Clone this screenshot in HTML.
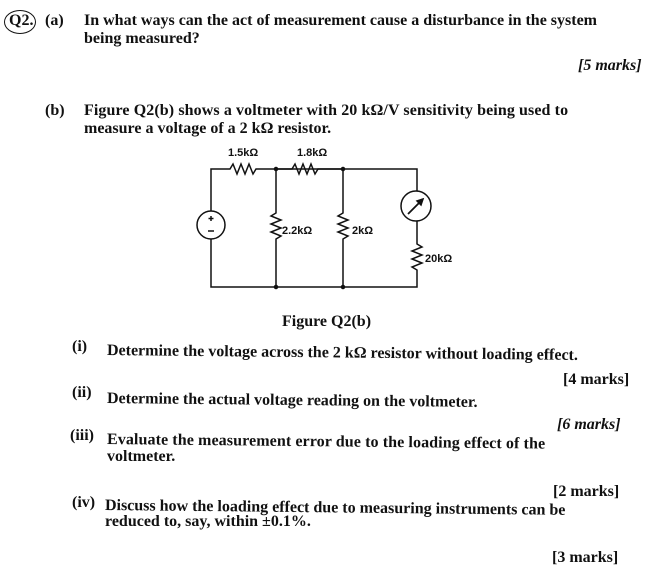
<!DOCTYPE html>
<html><head><style>
body{margin:0;width:649px;height:571px;background:#fff;position:relative;overflow:hidden;font-family:"Liberation Serif",serif;color:#111;}
.t{position:absolute;font-size:16px;font-weight:bold;white-space:nowrap;line-height:18px;letter-spacing:0px}
svg{position:absolute;left:0;top:0}
.s{font-family:"Liberation Sans",sans-serif;font-size:11px;font-weight:bold}
</style></head><body>
<div class="t" style="left:9px;top:12px">Q2.</div>
<div style="position:absolute;left:4px;top:10px;width:30px;height:22px;border:1.5px solid #111;border-radius:50%"></div>
<div class="t" style="left:45px;top:12px">(a)</div>
<div class="t" style="left:84px;top:12px;letter-spacing:0px">In what ways can the act of measurement cause a disturbance in the system</div>
<div class="t" style="left:84px;top:30px">being measured?</div>
<div class="t" style="left:578px;top:57px;font-style:italic">[5 marks]</div>
<div class="t" style="left:45px;top:102px">(b)</div>
<div class="t" style="left:84px;top:102px;letter-spacing:0.1px">Figure Q2(b) shows a voltmeter with 20 kΩ/V sensitivity being used to</div>
<div class="t" style="left:84px;top:120px">measure a voltage of a 2 kΩ resistor.</div>
<div class="t" style="left:282px;top:313px">Figure Q2(b)</div>
<div class="t" style="left:72px;top:338px">(i)</div>
<div class="t" style="left:107px;top:342px;transform:rotate(0.6deg);transform-origin:left">Determine the voltage across the 2 kΩ resistor without loading effect.</div>
<div class="t" style="left:563px;top:371px">[4 marks]</div>
<div class="t" style="left:72px;top:384px">(ii)</div>
<div class="t" style="left:107px;top:390px;transform:rotate(0.6deg);transform-origin:left">Determine the actual voltage reading on the voltmeter.</div>
<div class="t" style="left:557px;top:416px;font-style:italic">[6 marks]</div>
<div class="t" style="left:70px;top:427px">(iii)</div>
<div class="t" style="left:107px;top:431px;transform:rotate(0.6deg);transform-origin:left;letter-spacing:0.1px">Evaluate the measurement error due to the loading effect of the</div>
<div class="t" style="left:107px;top:448px">voltmeter.</div>
<div class="t" style="left:553px;top:483px">[2 marks]</div>
<div class="t" style="left:72px;top:494px">(iv)</div>
<div class="t" style="left:105px;top:497px;transform:rotate(0.6deg);transform-origin:left">Discuss how the loading effect due to measuring instruments can be</div>
<div class="t" style="left:105px;top:513px">reduced to, say, within ±0.1%.</div>
<div class="t" style="left:552px;top:549px">[3 marks]</div>
<svg width="649" height="571" fill="none" stroke="#111" stroke-width="1.5">
<path d="M211 211V169H230l3-5 4 10 4-10 4 10 4-10 4 10 3-5H343"/>
<path d="M276 169H292l3-5 4 10 4-10 4 10 4-10 4 10 3-5H417V191"/>
<path d="M211 239V287H417V270l-5-3 10-4-10-4 10-4-10-4 10-4-5-3V221"/>
<path d="M276 169V213l-5 3 10 4-10 4 10 4-10 4 10 4-5 3V287"/>
<path d="M343 169V213l-5 3 10 4-10 4 10 4-10 4 10 4-5 3V287"/>
<circle cx="211" cy="225" r="14"/>
<circle cx="416" cy="206" r="15"/>
<path d="M408 214L423 199" stroke-width="1.8"/>
<path d="M423 199l-6 2 4 4z" fill="#111"/>
<path d="M211 216v5M208.5 218.5h5M208 231h6"/>
<circle cx="276" cy="287" r="1.5" fill="#111"/><circle cx="343" cy="287" r="1.5" fill="#111"/>
<circle cx="276" cy="169" r="1.5" fill="#111"/><circle cx="343" cy="169" r="1.5" fill="#111"/>
<g stroke="none" fill="#111">
<text class="s" x="228" y="156">1.5kΩ</text>
<text class="s" x="297" y="156">1.8kΩ</text>
<text class="s" x="282" y="234">2.2kΩ</text>
<text class="s" x="352" y="234">2kΩ</text>
<text class="s" x="425" y="262">20kΩ</text>
</g>
</svg>
</body></html>
